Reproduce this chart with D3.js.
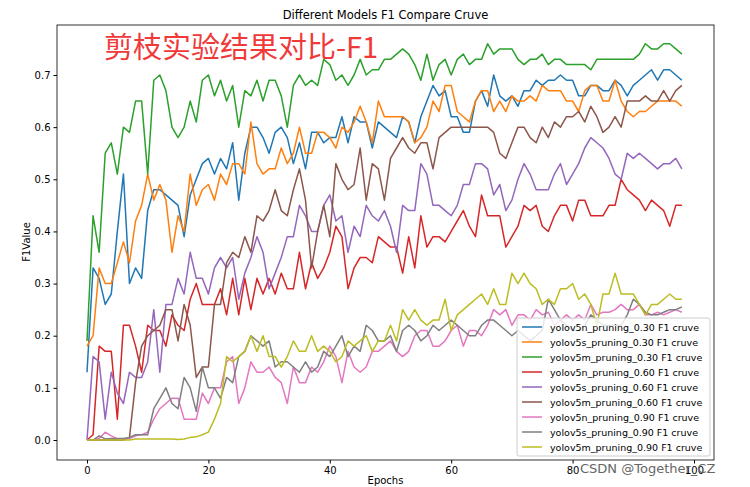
<!DOCTYPE html>
<html><head><meta charset="utf-8">
<script src="https://d3js.org/d3.v7.min.js"></script>
<style>body{margin:0;background:#fff}text{font-family:"DejaVu Sans",sans-serif}</style>
</head><body><svg id="c" width="750" height="487"></svg>
<script>
const seriesNames=["yolov5n_pruning_0.30 F1 cruve","yolov5s_pruning_0.30 F1 cruve","yolov5m_pruning_0.30 F1 cruve","yolov5n_pruning_0.60 F1 cruve","yolov5s_pruning_0.60 F1 cruve","yolov5m_pruning_0.60 F1 cruve","yolov5n_pruning_0.90 F1 cruve","yolov5s_pruning_0.90 F1 cruve","yolov5m_pruning_0.90 F1 cruve"];
const colors=["#1f77b4","#ff7f0e","#2ca02c","#d62728","#9467bd","#8c564b","#e377c2","#7f7f7f","#bcbd22"];
const xTicks=[0,20,40,60,80,100];
const yTicks=[0,0.1,0.2,0.3,0.4,0.5,0.6,0.7];
const n030=[0.13,0.33,0.31,0.26,0.28,0.40,0.51,0.30,0.33,0.31,0.44,0.48,0.48,0.47,0.46,0.45,0.39,0.47,0.50,0.53,0.54,0.51,0.54,0.52,0.57,0.46,0.55,0.60,0.60,0.58,0.55,0.59,0.60,0.58,0.53,0.57,0.52,0.59,0.59,0.57,0.58,0.58,0.62,0.57,0.62,0.61,0.61,0.56,0.61,0.60,0.59,0.58,0.62,0.61,0.57,0.62,0.65,0.68,0.66,0.67,0.62,0.62,0.59,0.59,0.65,0.67,0.64,0.70,0.66,0.65,0.66,0.64,0.67,0.67,0.69,0.68,0.69,0.69,0.70,0.69,0.69,0.66,0.66,0.68,0.68,0.67,0.67,0.69,0.68,0.66,0.68,0.69,0.70,0.71,0.69,0.71,0.71,0.70,0.69];
const s030=[0.18,0.20,0.33,0.30,0.30,0.34,0.38,0.34,0.42,0.45,0.51,0.46,0.49,0.46,0.36,0.43,0.40,0.51,0.45,0.48,0.49,0.46,0.51,0.49,0.53,0.53,0.51,0.61,0.53,0.51,0.52,0.52,0.56,0.53,0.55,0.60,0.55,0.55,0.59,0.59,0.58,0.56,0.60,0.59,0.61,0.64,0.61,0.57,0.65,0.62,0.62,0.62,0.62,0.61,0.57,0.58,0.60,0.65,0.63,0.68,0.68,0.63,0.62,0.61,0.65,0.67,0.67,0.63,0.65,0.63,0.66,0.65,0.65,0.66,0.65,0.68,0.67,0.67,0.67,0.65,0.65,0.63,0.67,0.68,0.68,0.65,0.65,0.69,0.65,0.63,0.62,0.63,0.63,0.64,0.65,0.65,0.65,0.65,0.64];
const m030=[0.19,0.43,0.36,0.55,0.57,0.51,0.60,0.59,0.65,0.65,0.51,0.69,0.70,0.67,0.60,0.58,0.60,0.65,0.61,0.69,0.70,0.66,0.69,0.65,0.68,0.60,0.67,0.66,0.69,0.65,0.69,0.69,0.66,0.60,0.68,0.70,0.68,0.69,0.68,0.73,0.72,0.69,0.70,0.68,0.70,0.73,0.70,0.71,0.71,0.73,0.73,0.74,0.75,0.74,0.72,0.69,0.74,0.69,0.72,0.73,0.70,0.73,0.74,0.72,0.73,0.73,0.76,0.74,0.75,0.75,0.75,0.73,0.72,0.73,0.73,0.74,0.72,0.73,0.73,0.72,0.72,0.72,0.72,0.71,0.73,0.73,0.73,0.73,0.73,0.73,0.73,0.74,0.76,0.75,0.75,0.76,0.76,0.75,0.74];
const n060=[0.0,0.01,0.18,0.17,0.17,0.04,0.22,0.22,0.18,0.13,0.22,0.21,0.21,0.18,0.24,0.22,0.21,0.27,0.30,0.26,0.26,0.26,0.29,0.24,0.31,0.24,0.31,0.25,0.31,0.28,0.31,0.28,0.32,0.29,0.29,0.36,0.29,0.34,0.31,0.33,0.36,0.41,0.39,0.29,0.33,0.35,0.35,0.34,0.39,0.38,0.37,0.37,0.32,0.39,0.33,0.43,0.37,0.39,0.39,0.38,0.40,0.42,0.44,0.41,0.39,0.47,0.43,0.43,0.43,0.37,0.39,0.41,0.45,0.44,0.45,0.41,0.40,0.43,0.45,0.45,0.42,0.46,0.46,0.43,0.43,0.43,0.45,0.45,0.50,0.48,0.47,0.46,0.44,0.46,0.45,0.44,0.41,0.45,0.45];
const s060=[0.0,0.16,0.15,0.04,0.13,0.09,0.07,0.13,0.12,0.12,0.15,0.25,0.13,0.26,0.26,0.31,0.28,0.36,0.31,0.31,0.28,0.33,0.35,0.33,0.35,0.27,0.32,0.35,0.39,0.36,0.29,0.32,0.35,0.39,0.39,0.45,0.43,0.40,0.40,0.45,0.47,0.42,0.43,0.36,0.41,0.39,0.45,0.43,0.42,0.44,0.41,0.36,0.45,0.44,0.44,0.53,0.51,0.45,0.45,0.44,0.43,0.45,0.49,0.49,0.53,0.53,0.52,0.47,0.49,0.44,0.46,0.50,0.53,0.51,0.48,0.48,0.48,0.51,0.53,0.49,0.51,0.53,0.56,0.58,0.57,0.56,0.54,0.51,0.50,0.55,0.54,0.55,0.54,0.53,0.52,0.53,0.53,0.54,0.52];
const m060=[0,0,0,0,0,0,0,0.005,0.11,0.18,0.20,0.21,0.22,0.25,0.25,0.19,0.26,0.22,0.12,0.14,0.14,0.26,0.26,0.34,0.36,0.35,0.39,0.36,0.43,0.42,0.44,0.48,0.44,0.43,0.48,0.52,0.46,0.33,0.40,0.45,0.39,0.53,0.50,0.48,0.49,0.56,0.46,0.53,0.52,0.46,0.54,0.56,0.58,0.56,0.55,0.57,0.57,0.52,0.58,0.59,0.60,0.60,0.60,0.60,0.60,0.60,0.60,0.59,0.55,0.54,0.57,0.60,0.60,0.58,0.57,0.60,0.58,0.61,0.60,0.62,0.62,0.63,0.61,0.64,0.62,0.59,0.60,0.62,0.60,0.65,0.65,0.65,0.66,0.65,0.65,0.67,0.65,0.67,0.68];
const n090=[0,0,0.003,0.015,0.008,0.002,0.002,0.003,0.008,0.01,0.015,0.04,0.06,0.07,0.08,0.08,0.04,0.04,0.04,0.09,0.07,0.10,0.10,0.15,0.16,0.07,0.10,0.15,0.13,0.13,0.14,0.12,0.11,0.07,0.14,0.11,0.11,0.14,0.13,0.15,0.18,0.16,0.11,0.17,0.14,0.13,0.14,0.17,0.17,0.18,0.19,0.17,0.16,0.17,0.20,0.21,0.21,0.18,0.18,0.19,0.21,0.22,0.18,0.21,0.21,0.20,0.22,0.25,0.24,0.25,0.22,0.24,0.24,0.23,0.25,0.24,0.245,0.22,0.23,0.24,0.23,0.24,0.23,0.26,0.24,0.245,0.245,0.25,0.26,0.25,0.25,0.26,0.24,0.24,0.245,0.24,0.245,0.25,0.245];
const s090=[0,0,0.008,0.002,0.003,0.003,0.003,0.005,0.01,0.01,0.01,0.06,0.08,0.10,0.07,0.06,0.12,0.10,0.055,0.14,0.10,0.10,0.08,0.12,0.11,0.16,0.17,0.20,0.19,0.18,0.19,0.14,0.15,0.15,0.14,0.13,0.15,0.13,0.14,0.17,0.16,0.18,0.20,0.16,0.18,0.17,0.22,0.21,0.19,0.19,0.20,0.17,0.21,0.22,0.21,0.19,0.20,0.22,0.21,0.22,0.23,0.22,0.21,0.20,0.20,0.22,0.23,0.23,0.22,0.21,0.20,0.21,0.20,0.19,0.20,0.21,0.27,0.25,0.23,0.22,0.21,0.21,0.22,0.24,0.23,0.22,0.22,0.22,0.22,0.24,0.27,0.26,0.245,0.24,0.24,0.245,0.25,0.25,0.255];
const m090=[0,0,0,0,0,0,0,0,0.002,0.002,0.002,0.002,0.002,0.002,0.002,0.001,0.002,0.005,0.006,0.01,0.015,0.04,0.07,0.16,0.15,0.16,0.17,0.20,0.17,0.20,0.16,0.16,0.14,0.16,0.19,0.17,0.17,0.20,0.17,0.18,0.17,0.15,0.16,0.19,0.18,0.19,0.20,0.17,0.19,0.19,0.22,0.19,0.25,0.23,0.25,0.23,0.22,0.23,0.23,0.27,0.21,0.24,0.25,0.26,0.27,0.28,0.26,0.29,0.26,0.26,0.32,0.30,0.32,0.30,0.29,0.26,0.27,0.26,0.29,0.29,0.30,0.27,0.28,0.26,0.22,0.28,0.28,0.32,0.28,0.28,0.28,0.26,0.24,0.26,0.26,0.27,0.28,0.27,0.27];
const allSeries=[n030,s030,m030,n060,s060,m060,n090,s090,m090];

const svg=d3.select("#c");
const L=57,R=714,T=25,B=460;
const x=d3.scaleLinear().domain([0,100]).range([87,694]);
const y=d3.scaleLinear().domain([0,0.7]).range([440,75]);
const g=svg.append("g");
const clip=svg.append("clipPath").attr("id","cp").append("rect").attr("x",L).attr("y",T).attr("width",R-L).attr("height",B-T);
const line=d3.line().x((d,i)=>x(i)).y(d=>y(d));
const lines=svg.append("g").attr("clip-path","url(#cp)");
allSeries.forEach((s,k)=>lines.append("path").attr("d",line(s)).attr("fill","none").attr("stroke",colors[k]).attr("stroke-width",1.5).attr("stroke-linejoin","round"));
svg.append("rect").attr("x",L).attr("y",T).attr("width",R-L).attr("height",B-T).attr("fill","none").attr("stroke","#000").attr("stroke-width",0.8);
const xa=svg.append("g").attr("transform",`translate(0,${B})`).call(d3.axisBottom(x).tickValues(xTicks).tickSize(3.5).tickPadding(3).tickFormat(d3.format("d")));
const ya=svg.append("g").attr("transform",`translate(${L},0)`).call(d3.axisLeft(y).tickValues(yTicks).tickSize(3.5).tickPadding(3).tickFormat(d3.format(".1f")));
[xa,ya].forEach(a=>{a.select(".domain").remove();a.selectAll("text").attr("font-size",10).attr("fill","#000").style("font-family","DejaVu Sans");});
svg.append("text").attr("x",(L+R)/2).attr("y",19).attr("text-anchor","middle").attr("font-size",11.5).text("Different Models F1 Compare Cruve");
svg.append("text").attr("x",(L+R)/2).attr("y",484).attr("text-anchor","middle").attr("font-size",10).text("Epochs");
svg.append("text").attr("transform","translate(30,242) rotate(-90)").attr("text-anchor","middle").attr("font-size",10).text("F1Value");
svg.append("text").attr("x",104).attr("y",58).attr("font-size",29).attr("fill","#f03a3a").style("font-family","Noto Sans CJK SC").text("剪枝实验结果对比-F1");
const lg=svg.append("g").attr("transform","translate(517,318)");
lg.append("rect").attr("width",193).attr("height",138).attr("rx",2).attr("fill","#fff").attr("fill-opacity",0.8).attr("stroke","#ccc");
seriesNames.forEach((nm,k)=>{const yy=9+k*15;
lg.append("line").attr("x1",5).attr("x2",25).attr("y1",yy).attr("y2",yy).attr("stroke",colors[k]).attr("stroke-width",1.5);
lg.append("text").attr("x",33).attr("y",yy+3.5).attr("font-size",9.5).text(nm);});
svg.append("text").attr("x",580).attr("y",473).attr("font-size",13).attr("fill","#666").text("CSDN @Together_CZ");
</script></body></html>
